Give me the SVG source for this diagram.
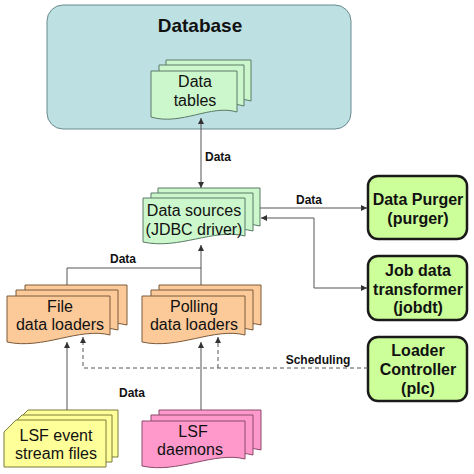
<svg xmlns="http://www.w3.org/2000/svg" width="474" height="474" viewBox="0 0 474 474">
<defs>
<style>
text{font-family:"Liberation Sans",Arial,sans-serif;fill:#111;text-anchor:middle}
.lbl{font-size:16px}
.big{font-size:16px;font-weight:bold}
.edge{font-size:12px;font-weight:bold}
.con{fill:none;stroke:#555;stroke-width:1}
.dash{stroke-dasharray:4 3}
.db{fill:#bde0e3;stroke:#6b8a8f;stroke-width:1}
.gdoc{fill:#ccf7cc;stroke:#5a7a66;stroke-width:1}
.odoc{fill:#fcc999;stroke:#7a5a3a;stroke-width:1}
.ydoc{fill:#ffff99;stroke:#7a7a3a;stroke-width:1}
.pdoc{fill:#ff99cc;stroke:#8a4a6a;stroke-width:1}
.gbox{fill:#ccff99;stroke:#1a1a1a;stroke-width:2.5}
</style>
<marker id="arr" viewBox="0 0 6 6" refX="6" refY="3" markerWidth="6" markerHeight="6" markerUnits="userSpaceOnUse" orient="auto-start-reverse">
<path d="M0,0 L6,3 L0,6 Z" fill="#333"/>
</marker>
</defs>

<g id="database">
<rect class="db" x="47" y="5" width="304" height="124" rx="16"/>
<text x="200" y="32" style="font-size:19px;font-weight:bold">Database</text>
</g>

<g id="data-tables">
<path class="gdoc" d="M166 60 H251 V101 C225 93 196 115 166 106 Z"/>
<path class="gdoc" d="M159 65 H244 V106 C218 98 189 120 159 111 Z"/>
<path class="gdoc" d="M151 71 H237 V112 C211 104 181 126 151 117 Z"/>
<text class="lbl" x="195" y="87">Data</text>
<text class="lbl" x="195" y="106">tables</text>
</g>

<g id="data-sources">
<path class="gdoc" d="M158 188 H260 V226 C229 218 194 240 158 232 Z"/>
<path class="gdoc" d="M151 193 H253 V231 C222 223 187 245 151 237 Z"/>
<path class="gdoc" d="M143 198 H245 V236 C214 228 179 250 143 242 Z"/>
<text class="lbl" x="194" y="216">Data sources</text>
<text class="lbl" x="194" y="235">(JDBC driver)</text>
</g>

<g id="data-purger">
<rect class="gbox" x="368" y="176" width="99" height="63" rx="10"/>
<text class="big" x="418" y="205">Data Purger</text>
<text class="big" x="418" y="224">(purger)</text>
</g>

<g id="job-data-transformer">
<rect class="gbox" x="368" y="256" width="99" height="64" rx="10"/>
<text class="big" x="418" y="276">Job data</text>
<text class="big" x="418" y="295">transformer</text>
<text class="big" x="418" y="313">(jobdt)</text>
</g>

<g id="loader-controller">
<rect class="gbox" x="368" y="337" width="99" height="64" rx="10"/>
<text class="big" x="418" y="356">Loader</text>
<text class="big" x="418" y="375">Controller</text>
<text class="big" x="418" y="394">(plc)</text>
</g>

<g id="file-data-loaders">
<path class="odoc" d="M25 285 H127 V325 C96 317 61 339 25 331 Z"/>
<path class="odoc" d="M16 290 H118 V330 C87 322 52 344 16 336 Z"/>
<path class="odoc" d="M7 296 H110 V335 C79 327 43 350 7 342 Z"/>
<text class="lbl" x="60" y="312">File</text>
<text class="lbl" x="60" y="330">data loaders</text>
</g>

<g id="polling-data-loaders">
<path class="odoc" d="M159 285 H261 V325 C230 317 195 339 159 331 Z"/>
<path class="odoc" d="M151 290 H253 V330 C222 322 187 344 151 336 Z"/>
<path class="odoc" d="M142 296 H245 V335 C214 327 178 350 142 342 Z"/>
<text class="lbl" x="194" y="312">Polling</text>
<text class="lbl" x="194" y="330">data loaders</text>
</g>

<g id="lsf-event-stream-files">
<path class="ydoc" d="M16 422 L28 410 H118 V457 H16 Z"/>
<path class="ydoc" d="M10 427 L22 415 H112 V462 H10 Z"/>
<path class="ydoc" d="M4 432 L16 420 H106 V467 H4 Z"/>
<text class="lbl" x="56" y="441">LSF event</text>
<text class="lbl" x="56" y="459">stream files</text>
</g>

<g id="lsf-daemons">
<path class="pdoc" d="M159 410 H261 V450 C230 442 195 464 159 456 Z"/>
<path class="pdoc" d="M151 415 H253 V455 C222 447 187 469 151 461 Z"/>
<path class="pdoc" d="M142 421 H245 V459 C214 451 178 474 142 466 Z"/>
<text class="lbl" x="193" y="437">LSF</text>
<text class="lbl" x="190" y="455">daemons</text>
</g>

<g id="connectors">
<path class="con" d="M201 118 V188" marker-start="url(#arr)" marker-end="url(#arr)"/>
<path class="con" d="M260 208 H367" marker-end="url(#arr)"/>
<path class="con" d="M261 218 H314 V288 H367" marker-start="url(#arr)" marker-end="url(#arr)"/>
<path class="con" d="M67 285 V268 H201"/>
<path class="con" d="M201 285 V245" marker-end="url(#arr)"/>
<path class="con" d="M67 410 V342" marker-end="url(#arr)"/>
<path class="con" d="M201 410 V342" marker-end="url(#arr)"/>
<path class="con dash" d="M368 368 H83 V337" marker-end="url(#arr)"/>
<path class="con dash" d="M218 368 V337" marker-end="url(#arr)"/>
<text class="edge" x="218" y="161">Data</text>
<text class="edge" x="309" y="204">Data</text>
<text class="edge" x="123" y="263">Data</text>
<text class="edge" x="132" y="397">Data</text>
<text class="edge" x="318" y="364">Scheduling</text>
</g>
</svg>
